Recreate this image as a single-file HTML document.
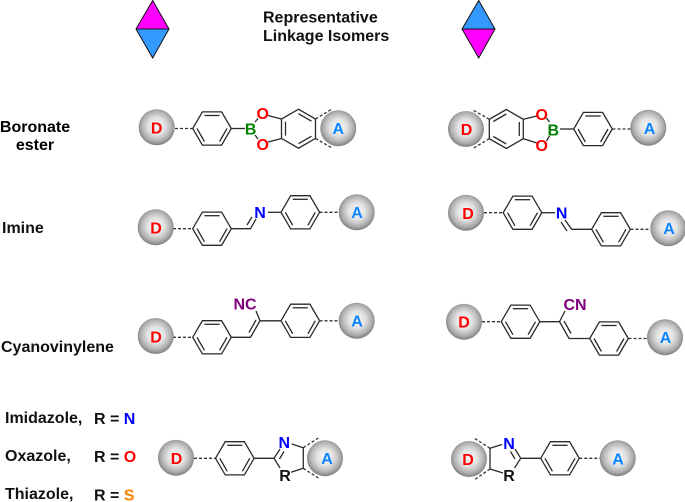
<!DOCTYPE html>
<html><head><meta charset="utf-8">
<style>
html,body{margin:0;padding:0;background:#fff;width:685px;height:502px;overflow:hidden}
svg{display:block}
text{font-family:"Liberation Sans",Arial,sans-serif;font-weight:bold;text-anchor:middle}
.l{text-anchor:start;font-size:16px;fill:#111}
.at{font-size:16px}
.sp{font-size:16px}
line,polyline,polygon.h{stroke:#2a2a2a;stroke-width:1.3;fill:none}
.d{stroke-dasharray:3 2;stroke:#333;stroke-width:1.3}
</style></head><body>
<svg width="685" height="502" viewBox="0 0 685 502" xmlns="http://www.w3.org/2000/svg">
<defs>
<radialGradient id="g" cx="50%" cy="47%" r="52%">
<stop offset="0" stop-color="#f8f8f8"/><stop offset=".45" stop-color="#e2e2e2"/><stop offset=".8" stop-color="#b0b0b0"/><stop offset="1" stop-color="#828282"/>
</radialGradient>
<g id="s"><circle r="18" fill="url(#g)"/></g>
<g id="r">
<polygon class="h" points="-19.3,0 -9.6,-16.6 9.6,-16.6 19.3,0 9.6,16.6 -9.6,16.6"/>
<line x1="-7.6" y1="-13" x2="7.6" y2="-13"/>
<line x1="15" y1="0" x2="7.6" y2="13"/>
<line x1="-15" y1="0" x2="-7.6" y2="13"/>
</g>
<g id="pl">
<polygon class="h" points="0,-19.5 17,-9.7 17,9.7 0,19.5 -17,9.7 -17,-9.7"/>
<line x1="-13" y1="-7" x2="-13" y2="7"/>
<line x1="0" y1="-15" x2="13" y2="-7.5"/>
<line x1="0" y1="15" x2="13" y2="7.5"/>
</g>
<g id="pr">
<polygon class="h" points="0,-19.5 17,-9.7 17,9.7 0,19.5 -17,9.7 -17,-9.7"/>
<line x1="13" y1="-7" x2="13" y2="7"/>
<line x1="0" y1="-15" x2="-13" y2="-7.5"/>
<line x1="0" y1="15" x2="-13" y2="7.5"/>
</g>
</defs>

<!-- diamonds -->
<polygon points="152.7,0 169,29 136,29" fill="#ff00ff"/>
<polygon points="136,29 169,29 152.7,58" fill="#3399ff"/>
<polygon points="152.7,0.5 169,29 152.7,58 136,29" fill="none" stroke="#111" stroke-width="1"/>
<line x1="136" y1="29" x2="169" y2="29" style="stroke:#111;stroke-width:1"/>
<polygon points="478.7,0 495,29 462,29" fill="#3399ff"/>
<polygon points="462,29 495,29 478.7,58" fill="#ff00ff"/>
<polygon points="478.7,0.5 495,29 478.7,58 462,29" fill="none" stroke="#111" stroke-width="1"/>
<line x1="462" y1="29" x2="495" y2="29" style="stroke:#111;stroke-width:1"/>

<text class="l" x="263" y="22.5">Representative</text>
<text class="l" x="263" y="41">Linkage Isomers</text>

<text x="35" y="132">Boronate</text>
<text x="35" y="150">ester</text>
<text class="l" x="2" y="233">Imine</text>
<text class="l" x="1" y="352">Cyanovinylene</text>
<text class="l" x="5" y="423">Imidazole,</text>
<text class="l" x="5" y="461">Oxazole,</text>
<text class="l" x="5" y="499">Thiazole,</text>
<text class="l" x="94" y="424">R = <tspan fill="#0000ff">N</tspan></text>
<text class="l" x="94" y="462">R = <tspan fill="#ff0000">O</tspan></text>
<text class="l" x="94" y="500.5">R = <tspan fill="#ff8000">S</tspan></text>

<!-- Row 1 left -->
<line class="d" x1="175" y1="128.5" x2="193" y2="128.5"/>
<use href="#s" x="156.7" y="127.3"/>
<use href="#r" x="212" y="128.5"/>
<line x1="231" y1="128.5" x2="245" y2="128.5"/>
<line x1="255" y1="122" x2="258" y2="118.5"/>
<line x1="255" y1="135" x2="258" y2="139"/>
<line x1="268" y1="115.5" x2="281.5" y2="119"/>
<line x1="268" y1="142" x2="281.5" y2="138.5"/>
<use href="#pl" x="298.5" y="128.7"/>
<use href="#s" x="338.3" y="128.3"/>
<line class="d" x1="315.5" y1="119" x2="332" y2="109"/>
<line class="d" x1="315.5" y1="138.5" x2="332" y2="148"/>
<text class="at" x="250.7" y="134.5" fill="#008000">B</text>
<text class="at" x="262.7" y="119" fill="#ff0000">O</text>
<text class="at" x="262.7" y="150" fill="#ff0000">O</text>
<text class="sp" x="156.7" y="133.5" fill="#ff0000">D</text>
<text class="sp" x="338.3" y="134" fill="#0a84ff">A</text>

<!-- Row 1 right -->
<use href="#s" x="466" y="129"/>
<use href="#pr" x="506.3" y="129"/>
<line class="d" x1="489.3" y1="119.3" x2="472" y2="109.5"/>
<line class="d" x1="489.3" y1="138.7" x2="472" y2="149"/>
<line x1="523.3" y1="119.3" x2="537" y2="116"/>
<line x1="523.3" y1="138.7" x2="537" y2="143"/>
<line x1="546.5" y1="118" x2="549.5" y2="122"/>
<line x1="546.5" y1="141" x2="549.5" y2="136"/>
<line x1="560" y1="129" x2="573.7" y2="129"/>
<use href="#r" x="593" y="129"/>
<line class="d" x1="612.5" y1="129" x2="631" y2="129"/>
<use href="#s" x="648.3" y="127.7"/>
<text class="at" x="553.3" y="135.3" fill="#008000">B</text>
<text class="at" x="541.7" y="120" fill="#ff0000">O</text>
<text class="at" x="541.7" y="151" fill="#ff0000">O</text>
<text class="sp" x="466.5" y="135" fill="#ff0000">D</text>
<text class="sp" x="649.5" y="134" fill="#0a84ff">A</text>

<!-- Row 2 left -->
<line class="d" x1="173" y1="228.7" x2="193" y2="228.7"/>
<use href="#s" x="155.7" y="227.3"/>
<use href="#r" x="212" y="228.7"/>
<polyline points="231,228.7 250.5,228.7 256,219"/>
<line x1="247" y1="225" x2="252" y2="217"/>
<line x1="268" y1="212.3" x2="281" y2="212.3"/>
<use href="#r" x="300.3" y="212.3"/>
<line class="d" x1="319.5" y1="212.3" x2="339" y2="212.3"/>
<use href="#s" x="356.7" y="212.3"/>
<text class="at" x="260" y="218" fill="#0000ff">N</text>
<text class="sp" x="156" y="233.5" fill="#ff0000">D</text>
<text class="sp" x="357" y="218" fill="#0a84ff">A</text>

<!-- Row 2 right -->
<use href="#s" x="466" y="212.7"/>
<line class="d" x1="484" y1="212.7" x2="503.5" y2="212.7"/>
<use href="#r" x="522.5" y="212.7"/>
<line x1="542" y1="212.7" x2="555" y2="212.7"/>
<polyline points="565,220 571.7,229.3 591.7,229.3"/>
<line x1="561" y1="222" x2="567" y2="231"/>
<use href="#r" x="611" y="229.3"/>
<line class="d" x1="630.5" y1="229.3" x2="651" y2="229.3"/>
<use href="#s" x="668.3" y="228.3"/>
<text class="at" x="561.7" y="218.5" fill="#0000ff">N</text>
<text class="sp" x="468" y="219" fill="#ff0000">D</text>
<text class="sp" x="669" y="234" fill="#0a84ff">A</text>

<!-- Row 3 left -->
<line class="d" x1="173" y1="337.3" x2="193" y2="337.3"/>
<use href="#s" x="155.7" y="336"/>
<use href="#r" x="212" y="337.3"/>
<polyline points="231,337.3 250.5,337.3 260,320.8 281,320.8"/>
<line x1="249" y1="332.5" x2="256" y2="320"/>
<line x1="256" y1="311" x2="260" y2="320.8"/>
<use href="#r" x="300.3" y="320.8"/>
<line class="d" x1="319.5" y1="320.8" x2="339" y2="320.8"/>
<use href="#s" x="356.7" y="320.8"/>
<text class="at" x="245" y="309.7" fill="#800080">NC</text>
<text class="sp" x="156" y="342.5" fill="#ff0000">D</text>
<text class="sp" x="357" y="326.5" fill="#0a84ff">A</text>

<!-- Row 3 right -->
<use href="#s" x="464" y="321.7"/>
<line class="d" x1="482" y1="321.7" x2="501" y2="321.7"/>
<use href="#r" x="520.5" y="321.7"/>
<polyline points="540,321.7 559.5,321.7 569,338.5 590,338.5"/>
<line x1="564" y1="321" x2="571" y2="333.5"/>
<line x1="559.5" y1="321.7" x2="565" y2="311"/>
<use href="#r" x="609" y="338.5"/>
<line class="d" x1="628.5" y1="338.5" x2="648" y2="338.5"/>
<use href="#s" x="665" y="337.3"/>
<text class="at" x="575" y="309.8" fill="#800080">CN</text>
<text class="sp" x="464" y="327.5" fill="#ff0000">D</text>
<text class="sp" x="665.5" y="343" fill="#0a84ff">A</text>

<!-- Row 4 left -->
<use href="#s" x="176" y="457.7"/>
<line class="d" x1="194" y1="458.3" x2="215.5" y2="458.3"/>
<use href="#r" x="234.8" y="458.3"/>
<line x1="254" y1="458.3" x2="274" y2="458.3"/>
<line x1="274" y1="458.3" x2="280" y2="449"/>
<line x1="279.5" y1="459" x2="284" y2="451.5"/>
<line x1="274" y1="458.3" x2="280" y2="468"/>
<line x1="291.7" y1="444" x2="303.3" y2="447.7"/>
<line x1="303.3" y1="447.7" x2="303.3" y2="468.3"/>
<line x1="291" y1="472.3" x2="303.3" y2="468.3"/>
<use href="#s" x="325" y="458.3"/>
<line class="d" x1="303.3" y1="447.7" x2="320" y2="437"/>
<line class="d" x1="303.3" y1="468.3" x2="320" y2="479"/>
<text class="at" x="284.3" y="448" fill="#0000ff">N</text>
<text class="at" x="285" y="481" fill="#111">R</text>
<text class="sp" x="176.5" y="464" fill="#ff0000">D</text>
<text class="sp" x="327" y="464" fill="#0a84ff">A</text>

<!-- Row 4 right -->
<use href="#s" x="469" y="459"/>
<line class="d" x1="490" y1="448.3" x2="474" y2="438"/>
<line class="d" x1="490" y1="469" x2="474" y2="480"/>
<line x1="490" y1="448.3" x2="490" y2="469"/>
<line x1="490" y1="448.3" x2="502" y2="444.5"/>
<line x1="490" y1="469" x2="503" y2="473"/>
<line x1="515" y1="449" x2="520.7" y2="458.3"/>
<line x1="510.5" y1="451.5" x2="515" y2="459"/>
<line x1="520.7" y1="458.3" x2="514.5" y2="468"/>
<line x1="520.7" y1="458.3" x2="541" y2="458.3"/>
<use href="#r" x="560" y="458.3"/>
<line class="d" x1="579.3" y1="458.3" x2="600" y2="458.3"/>
<use href="#s" x="617.7" y="458.3"/>
<text class="at" x="509" y="449" fill="#0000ff">N</text>
<text class="at" x="509" y="481" fill="#111">R</text>
<text class="sp" x="468" y="465" fill="#ff0000">D</text>
<text class="sp" x="618" y="464.5" fill="#0a84ff">A</text>
</svg>
</body></html>
